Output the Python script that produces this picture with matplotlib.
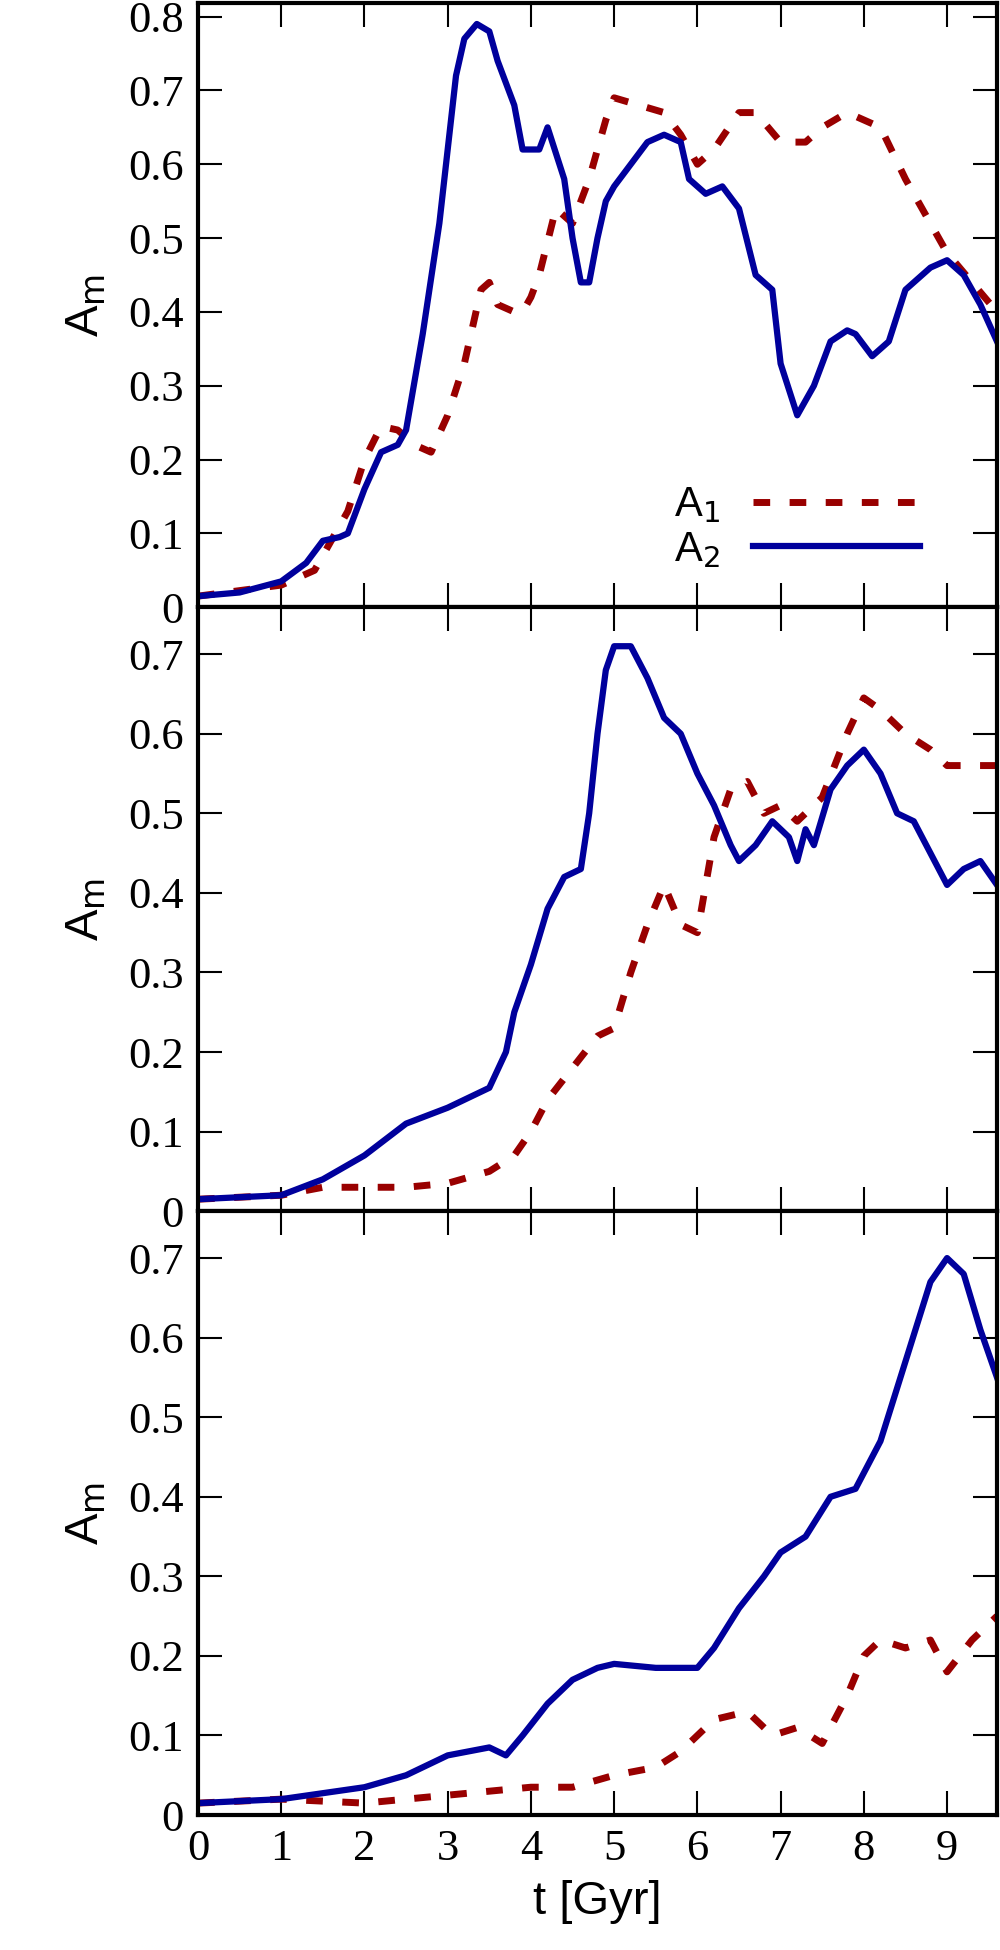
import matplotlib
matplotlib.use("Agg")
import matplotlib.pyplot as plt

t1_a2 = [0,0.5,1,1.3,1.5,1.7,1.8,2.0,2.2,2.4,2.5,2.7,2.9,3.0,3.1,3.2,3.35,3.5,3.6,3.8,3.9,4.1,4.2,4.4,4.5,4.6,4.7,4.8,4.9,5.0,5.2,5.4,5.6,5.8,5.9,6.1,6.3,6.5,6.7,6.9,7.0,7.2,7.4,7.6,7.8,7.9,8.1,8.3,8.5,8.8,9.0,9.2,9.4,9.6]
v1_a2 = [0.015,0.02,0.035,0.06,0.09,0.095,0.1,0.16,0.21,0.22,0.24,0.37,0.52,0.62,0.72,0.77,0.79,0.78,0.74,0.68,0.62,0.62,0.65,0.58,0.5,0.44,0.44,0.5,0.55,0.57,0.6,0.63,0.64,0.63,0.58,0.56,0.57,0.54,0.45,0.43,0.33,0.26,0.3,0.36,0.375,0.37,0.34,0.36,0.43,0.46,0.47,0.45,0.41,0.36]
t1_a1 = [0,1,1.4,1.8,2.0,2.2,2.4,2.6,2.8,3.0,3.2,3.4,3.5,3.6,3.8,3.9,4.0,4.1,4.3,4.5,4.7,4.9,5.0,5.3,5.6,5.8,6.0,6.2,6.5,6.7,7.0,7.3,7.5,7.8,8.0,8.2,8.5,8.8,9.0,9.3,9.6]
v1_a1 = [0.015,0.03,0.05,0.13,0.2,0.245,0.24,0.22,0.21,0.26,0.33,0.43,0.44,0.41,0.4,0.4,0.42,0.45,0.54,0.52,0.58,0.66,0.69,0.68,0.67,0.64,0.6,0.62,0.67,0.67,0.63,0.63,0.65,0.67,0.66,0.65,0.58,0.52,0.48,0.44,0.4]

t2_a2 = [0,1,1.5,2,2.5,3,3.5,3.7,3.8,4.0,4.2,4.4,4.6,4.7,4.8,4.9,5.0,5.2,5.4,5.6,5.8,6.0,6.2,6.4,6.5,6.7,6.9,7.1,7.2,7.3,7.4,7.6,7.8,8.0,8.2,8.4,8.6,8.8,9.0,9.2,9.4,9.6]
v2_a2 = [0.015,0.02,0.04,0.07,0.11,0.13,0.155,0.2,0.25,0.31,0.38,0.42,0.43,0.5,0.6,0.68,0.71,0.71,0.67,0.62,0.6,0.55,0.51,0.46,0.44,0.46,0.49,0.47,0.44,0.48,0.46,0.53,0.56,0.58,0.55,0.5,0.49,0.45,0.41,0.43,0.44,0.41]
t2_a1 = [0,1,1.5,2,2.5,3,3.5,3.8,4.0,4.2,4.5,4.8,5.0,5.2,5.4,5.6,5.8,6.0,6.2,6.4,6.6,6.8,7.0,7.2,7.5,7.8,8.0,8.2,8.5,8.8,9.0,9.3,9.6]
v2_a1 = [0.015,0.02,0.03,0.03,0.03,0.035,0.05,0.07,0.1,0.14,0.18,0.22,0.23,0.3,0.36,0.41,0.36,0.35,0.47,0.53,0.54,0.5,0.51,0.49,0.52,0.6,0.645,0.63,0.6,0.58,0.56,0.56,0.56]

t3_a2 = [0,1,2,2.5,3,3.5,3.7,3.9,4.2,4.5,4.8,5.0,5.5,6.0,6.2,6.5,6.8,7.0,7.3,7.6,7.9,8.2,8.5,8.8,9.0,9.2,9.4,9.6]
v3_a2 = [0.015,0.02,0.035,0.05,0.075,0.085,0.075,0.1,0.14,0.17,0.185,0.19,0.185,0.185,0.21,0.26,0.3,0.33,0.35,0.4,0.41,0.47,0.57,0.67,0.7,0.68,0.61,0.55]
t3_a1 = [0,1,2,2.5,3,3.5,4.0,4.5,5.0,5.5,5.8,6.2,6.6,6.9,7.2,7.5,7.8,8.0,8.2,8.5,8.8,9.0,9.3,9.6]
v3_a1 = [0.015,0.02,0.015,0.02,0.025,0.03,0.035,0.035,0.05,0.06,0.08,0.12,0.13,0.1,0.11,0.09,0.15,0.2,0.22,0.21,0.22,0.18,0.22,0.25]

x_ticks = list(range(10))
panels = [(t1_a1, v1_a1, t1_a2, v1_a2, 0.818, [0,0.1,0.2,0.3,0.4,0.5,0.6,0.7,0.8]),
          (t2_a1, v2_a1, t2_a2, v2_a2, 0.759, [0,0.1,0.2,0.3,0.4,0.5,0.6,0.7]),
          (t3_a1, v3_a1, t3_a2, v3_a2, 0.759, [0,0.1,0.2,0.3,0.4,0.5,0.6,0.7])]

RED = "#990000"
BLUE = "#00009c"
serif = "Liberation Serif"
sans = "Liberation Sans"

fig = plt.figure(figsize=(10, 19.5), dpi=100)
left, width = 0.198, 0.799
bottom0, h = 0.0692, 0.3097
for i, (ta1, va1, ta2, va2, ytop, yt) in enumerate(panels):
    ax = fig.add_axes([left, bottom0 + (2 - i) * h, width, h])
    l1, = ax.plot(ta1, va1, color=RED, lw=5, dashes=(2.4, 2.8), label="A$_1$")
    l2, = ax.plot(ta2, va2, color=BLUE, lw=4.5, label="A$_2$")
    ax.set_xlim(0, 9.6)
    ax.set_ylim(0, ytop)
    ax.set_xticks(x_ticks)
    ax.set_yticks(yt)
    ax.set_yticklabels([("%g" % v) for v in yt], fontfamily=serif, fontsize=32)
    ax.tick_params(direction="in", length=17, width=1.5, top=True, right=True, pad=10)
    for s in ax.spines.values():
        s.set_linewidth(3)
    ax.set_ylabel("A$_\\mathrm{m}$", fontfamily=sans, fontsize=34, labelpad=14)
    if i == 2:
        ax.set_xticklabels([str(v) for v in x_ticks], fontfamily=serif, fontsize=32)
        ax.set_xlabel("t [Gyr]", fontfamily=sans, fontsize=34, labelpad=8)
    else:
        ax.set_xticklabels([])
    if i == 0:
        ax.legend(handles=[l1, l2], loc="lower right", bbox_to_anchor=(0.95, 0.0),
                  frameon=False, markerfirst=False, handlelength=4.0,
                  prop={"family": sans, "size": 30}, labelspacing=0.1, handletextpad=0.8)

fig.savefig("out.png", dpi=100)
